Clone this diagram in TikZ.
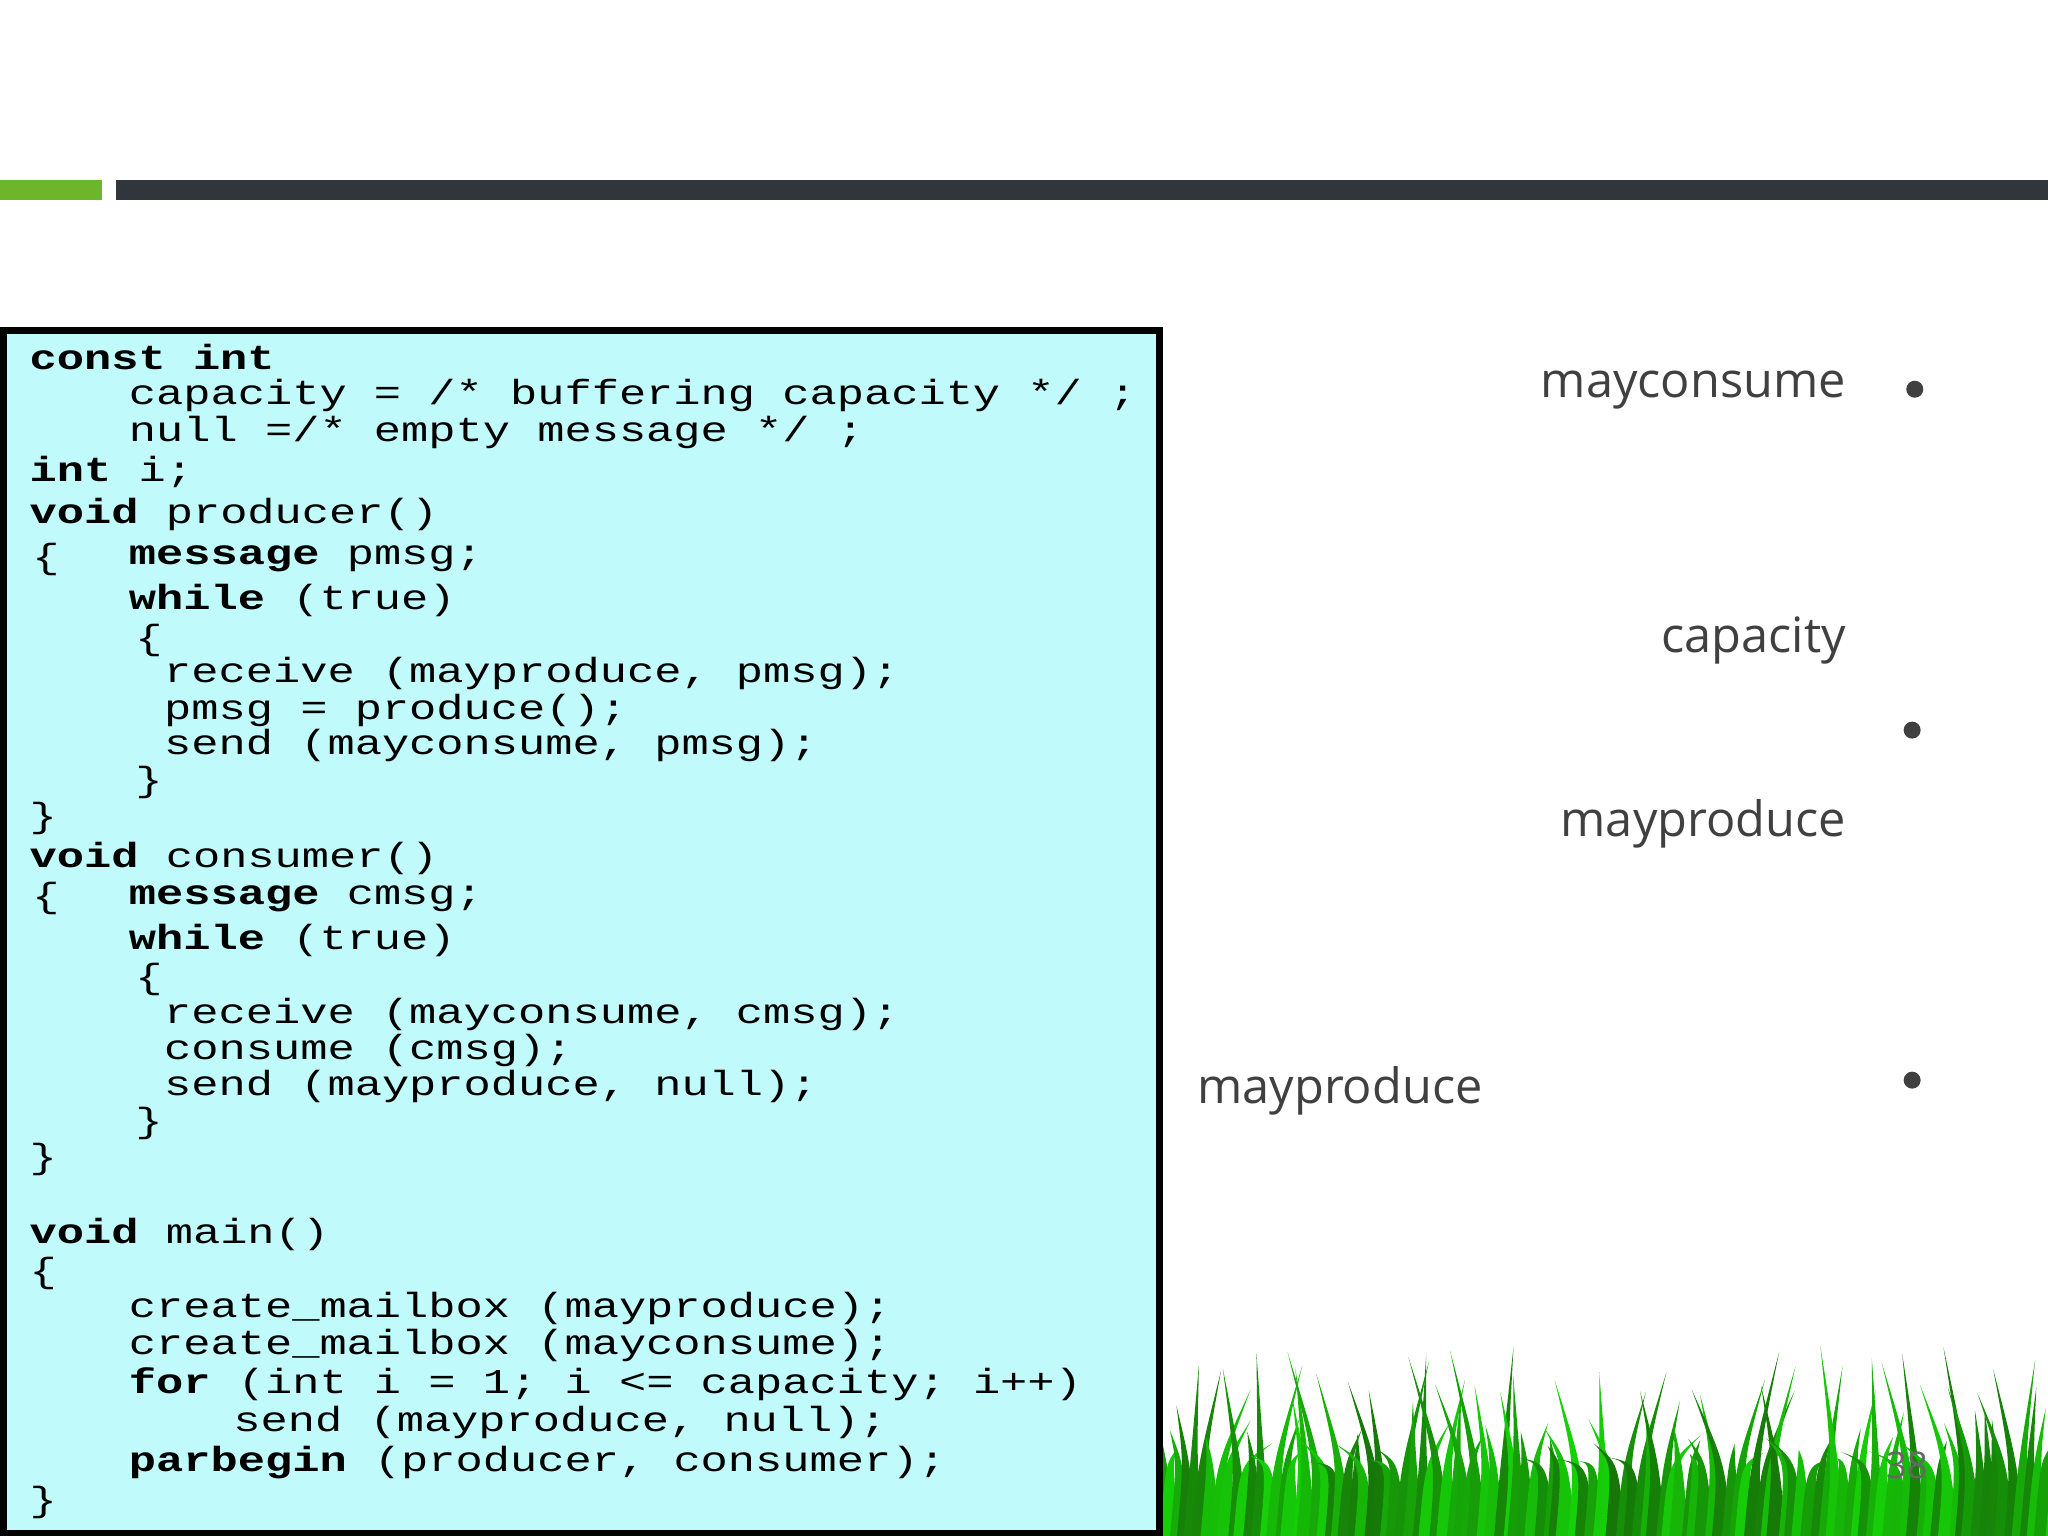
\documentclass[tikz,border=0pt]{standalone}
\usepackage{fontspec}
\setmonofont{Liberation Mono}[FakeStretch=1.3]
\setsansfont{Open Sans}
\definecolor{codebg}{HTML}{C0FAFA}
\definecolor{darkbar}{HTML}{30363B}
\definecolor{lime}{HTML}{6DB52A}
\definecolor{txt}{HTML}{404040}
\begin{document}
\begin{tikzpicture}[x=0.01cm,y=-0.01cm,
  code/.style={anchor=west,inner sep=0,font=\ttfamily\fontsize{7.6}{9}\selectfont},
  side/.style={anchor=east,inner sep=0,text=txt,font=\sffamily\fontsize{10.6}{12}\selectfont},
  bul/.style={circle,fill=txt,inner sep=0,minimum size=0.13cm}]
\useasboundingbox (0,0) rectangle (1568,1176);
\fill[white] (0,0) rectangle (1568,1176);
\fill[lime] (0,138) rectangle (78,153);
\fill[darkbar] (89,138) rectangle (1568,153);
% grass
\pgfmathsetseed{7}
\foreach \i in {0,...,110}{
  \pgfmathsetmacro{\bx}{888+\i*6.2+rnd*4}
  \pgfmathsetmacro{\h}{1030+rnd*90}
  \pgfmathsetmacro{\tx}{\bx+(rnd-0.5)*50}
  \pgfmathsetmacro{\g}{40+rnd*45}
  \fill[green!\g!black!80!lime] (\bx-7,1176) .. controls (\bx-2,1120) .. (\tx,\h) .. controls (\bx+3,1120) .. (\bx+8,1176) -- cycle;
}
\fill[codebg,draw=black,line width=1.5pt] (3,253) rectangle (888,1174);
\node[code] (l1) at (22,273) {\textbf{const int}};
\node[code] (l2) at (98,303) {capacity = /* buffering capacity */ ;};
\node[code] (l3) at (98,331) {null =/* empty message */ ;};
\node[code] (l4) at (22,361) {\textbf{int} i;};
\node[code] (l5) at (22,394) {\textbf{void} producer()};
\node[code] (l6a) at (24,428) {\{};
\node[code] (l6) at (98,428) {\textbf{message} pmsg;};
\node[code] (l7) at (98,460) {\textbf{while} (true)};
\node[code] (l8) at (103,490) {\{};
\node[code] (l9) at (125,516) {receive (mayproduce, pmsg);};
\node[code] (l10) at (125,544) {pmsg = produce();};
\node[code] (l11) at (125,571) {send (mayconsume, pmsg);};
\node[code] (l12) at (103,599) {\}};
\node[code] (l13) at (22,627) {\}};
\node[code] (l14) at (22,657) {\textbf{void} consumer()};
\node[code] (l15a) at (24,688) {\{};
\node[code] (l15) at (98,688) {\textbf{message} cmsg;};
\node[code] (l16) at (98,720) {\textbf{while} (true)};
\node[code] (l17) at (103,750) {\{};
\node[code] (l18) at (125,777) {receive (mayconsume, cmsg);};
\node[code] (l19) at (125,804) {consume (cmsg);};
\node[code] (l20) at (125,832) {send (mayproduce, null);};
\node[code] (l21) at (103,860) {\}};
\node[code] (l22) at (22,888) {\}};
\node[code] (l23) at (22,945) {\textbf{void} main()};
\node[code] (l24) at (22,975) {\{};
\node[code] (l25) at (98,1002) {create\_mailbox (mayproduce);};
\node[code] (l26) at (98,1030) {create\_mailbox (mayconsume);};
\node[code] (l27) at (98,1060) {\textbf{for} (int i = 1; i <= capacity; i++)};
\node[code] (l28) at (178,1089) {send (mayproduce, null);};
\node[code] (l29) at (98,1120) {\textbf{parbegin} (producer, consumer);};
\node[code] (l30) at (22,1150) {\}};
% right side
\node[side] (t1) at (1414,299) {mayconsume};
\node[side] (t2) at (1414,490) {capacity};
\node[side] (t3) at (1414,631) {mayproduce};
\node[side,anchor=west] (t4) at (916,835) {mayproduce};
\node[bul] (b1) at (1466,298) {};
\node[bul] (b2) at (1464,559) {};
\node[bul] (b3) at (1464,827) {};
\node[anchor=center,text=black!60,font=\sffamily\fontsize{8}{9}\selectfont] (pg) at (1460,1122) {38};
\end{tikzpicture}
\end{document}
